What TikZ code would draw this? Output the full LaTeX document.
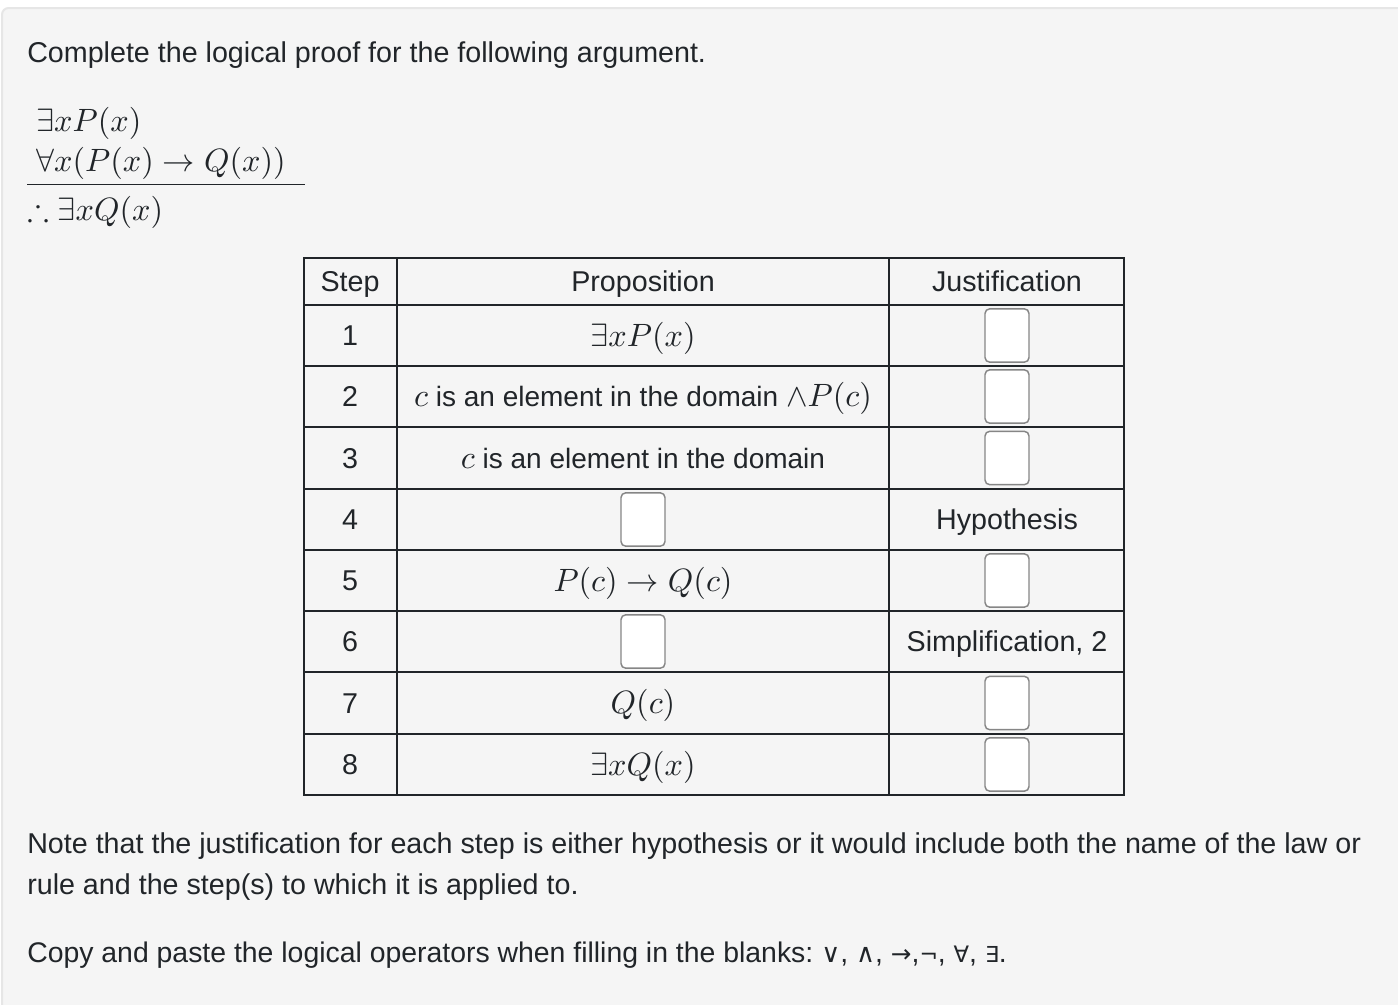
\documentclass[tikz,border=0pt]{standalone}
\usepackage{amssymb}
\usepackage{graphicx}
\usepackage{fontspec}
\setmainfont{Liberation Sans}
\newfontfamily\symfont{DejaVu Sans}
\newcommand{\bigmath}[1]{\scalebox{2.42}{\normalsize$#1$}}
\newcommand{\blanksym}[2]{{\symfont\fontsize{#1}{24}\selectfont #2}}
\definecolor{ink}{HTML}{212529}
\definecolor{panelgray}{HTML}{F5F5F5}
\definecolor{panelline}{HTML}{E6E6E6}
\definecolor{blankline}{HTML}{868686}
\tikzset{
  bodytext/.style={anchor=base west,inner sep=0pt,text=ink,font=\fontsize{21.5}{24}\selectfont},
  celltext/.style={anchor=base,inner sep=0pt,text=ink,font=\fontsize{21.5}{24}\selectfont},
  domaintext/.style={celltext,font=\fontsize{21}{24}\selectfont},
  mathtext/.style={anchor=base,inner sep=0pt,text=ink},
  proofline/.style={anchor=base west,inner sep=0pt,text=ink},
  blankbox/.style={draw=blankline,line width=1.1pt,fill=white,rounded corners=3.5pt,minimum width=33pt,minimum height=40pt,inner sep=0pt},
  tablerule/.style={draw=ink,line width=1.4pt}
}
\begin{document}
\begin{tikzpicture}[x=0.75pt,y=-0.75pt]
  \useasboundingbox (0,0) rectangle (1398,1004);
  \fill[white] (0,0) rectangle (1398,1004);
  \draw[draw=panelline,fill=panelgray,line width=1.5pt,rounded corners=5pt] (2,8) -- (1420,8) -- (1420,1030) -- (2,1030) -- cycle;
  \draw
    (27,62) node[bodytext] (title) {Complete the logical proof for the following argument.}
    (36,131) node[proofline] (premise1) {\bigmath{\exists x P(x)}}
    (36,171) node[proofline] (premise2) {\bigmath{\forall x (P(x) \to Q(x))}}
    (27,220) node[proofline] (conclusion) {\bigmath{\therefore \exists x Q(x)}};
  \draw[ink,line width=1pt] (27,184.5) coordinate (rulea) -- (305,184.5) coordinate (ruleb);
  % table
  \begin{scope}[tablerule]
    \draw (304,258) rectangle (1124,795);
    \draw (397,258) -- (397,795);
    \draw (889,258) -- (889,795);
    \draw (304,305) -- (1124,305);
    \draw (304,366) -- (1124,366);
    \draw (304,427) -- (1124,427);
    \draw (304,489) -- (1124,489);
    \draw (304,550) -- (1124,550);
    \draw (304,611) -- (1124,611);
    \draw (304,672) -- (1124,672);
    \draw (304,734) -- (1124,734);
  \end{scope}
  \draw
    (350,291) node[celltext] (step) {Step}
    (643,291) node[celltext] (prop) {Proposition}
    (1007,291) node[celltext] (just) {Justification}
    (350,345) node[celltext] (s1) {1}
    (350,406) node[celltext] (s2) {2}
    (350,468) node[celltext] (s3) {3}
    (350,529) node[celltext] (s4) {4}
    (350,590) node[celltext] (s5) {5}
    (350,651) node[celltext] (s6) {6}
    (350,713) node[celltext] (s7) {7}
    (350,774) node[celltext] (s8) {8}
    (643,346) node[mathtext] (p1) {\bigmath{\exists x P(x)}}
    (643,406) node[domaintext] (p2) {\bigmath{c} is an element in the domain \bigmath{\land P(c)}}
    (643,468) node[domaintext] (p3) {\bigmath{c} is an element in the domain}
    (643,591) node[mathtext] (p5) {\bigmath{P(c) \to Q(c)}}
    (643,713) node[mathtext] (p7) {\bigmath{Q(c)}}
    (643,775) node[mathtext] (p8) {\bigmath{\exists x Q(x)}}
    (1007,529) node[celltext] (j4) {Hypothesis}
    (1007,651) node[celltext] (j6) {Simplification, 2};
  \node[blankbox] (b1) at (1007,335.5) {};
  \node[blankbox] (b2) at (1007,396.5) {};
  \node[blankbox] (b3) at (1007,458) {};
  \node[blankbox] (b4) at (643,519.5) {};
  \node[blankbox] (b5) at (1007,580.5) {};
  \node[blankbox] (b6) at (643,641.5) {};
  \node[blankbox] (b7) at (1007,703) {};
  \node[blankbox] (b8) at (1007,764.5) {};
  \draw
    (27,853) node[bodytext] (note1) {Note that the justification for each step is either hypothesis or it would include both the name of the law or}
    (27,894) node[bodytext] (note2) {rule and the step(s) to which it is applied to.}
    (27,962) node[bodytext,font=\fontsize{21.3}{24}\selectfont] (copy) {Copy and paste the logical operators when filling in the blanks:\hspace{-2pt} \blanksym{19.5}{∨}, \blanksym{19.5}{∧}, \blanksym{18.5}{→},\blanksym{16.5}{¬}, \blanksym{17}{∀}, \blanksym{16.5}{∃}.};
\end{tikzpicture}
\end{document}
